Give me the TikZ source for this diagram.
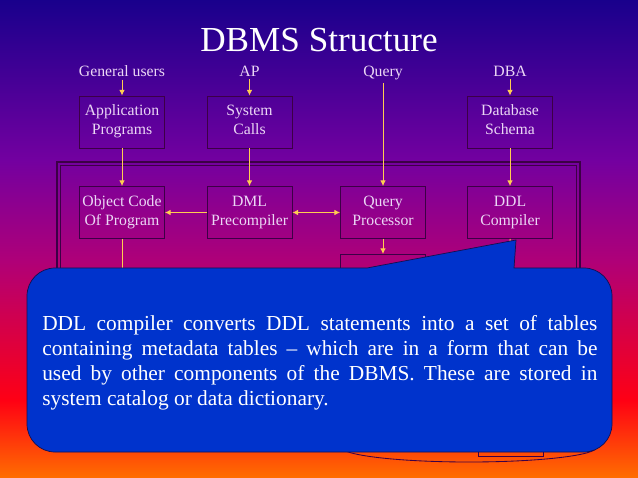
\documentclass[tikz,border=0pt]{standalone}
\usepackage{fontspec}
\setmainfont{Liberation Serif}
\usetikzlibrary{arrows.meta,positioning}
\definecolor{boxline}{RGB}{60,0,70}
\definecolor{labeltext}{RGB}{235,215,245}
\definecolor{flowarrow}{RGB}{255,205,80}
\definecolor{calloutblue}{RGB}{0,51,204}
\definecolor{calloutedge}{RGB}{20,15,80}
\definecolor{bgtop}{RGB}{25,0,140}
\definecolor{bgpurple}{RGB}{115,0,160}
\definecolor{bgmagenta}{RGB}{175,0,120}
\definecolor{bgred}{RGB}{255,0,20}
\definecolor{bgorange}{RGB}{255,110,0}

\begin{document}
\begin{tikzpicture}[
  x=0.025cm, y=-0.025cm,
  >={Latex[length=4pt,width=4pt]},
  every node/.style={font=\fontsize{11.2}{13.5}\selectfont, text=labeltext},
  box/.style={draw=boxline, line width=0.6pt, align=center, minimum width=2.125cm, minimum height=1.3cm, inner sep=0pt,
    execute at begin node={\rule{0pt}{12.2pt}}, execute at end node={\rule[-3pt]{0pt}{3pt}}},
  user/.style={inner sep=1.5pt, anchor=base},
  flow/.style={->, draw=flowarrow, line width=0.7pt}
]
% background
\useasboundingbox (0,0) rectangle (638,478);
\fill[top color=bgtop, bottom color=bgpurple] (0,0) rectangle (638,161);
\fill[top color=bgpurple, bottom color=bgmagenta] (0,160) rectangle (638,261);
\fill[top color=bgmagenta, bottom color=bgred] (0,260) rectangle (638,401);
\fill[top color=bgred, bottom color=bgorange] (0,400) rectangle (638,478);

\node[font=\fontsize{25}{30}\selectfont, text=white, anchor=base] (title) at (319,52) {DBMS Structure};

% users
\node[user] (users) at (122,77) {General users};
\node[user] (ap) at (249.5,77) {AP};
\node[user] (query) at (383,77) {Query};
\node[user] (dba) at (510,77) {DBA};

% frame
\draw[boxline, line width=0.9pt] (57,162) rectangle (580,430);
\draw[boxline, line width=0.5pt] (60.5,165.5) rectangle (576.5,426);

\node[box] (app) at (122,122) {Application\\Programs};
\node[box] (syscall) at (249.5,122) {System\\Calls};
\node[box] (schema) at (510,122) {Database\\Schema};
\node[box] (objcode) at (122,212.5) {Object Code\\Of Program};
\node[box] (dml) at (249.5,212.5) {DML\\Precompiler};
\node[box] (qproc) at (383,212.5) {Query\\Processor};
\node[box] (ddl) at (510,212.5) {DDL\\Compiler};

% lower part, mostly behind the note
\node[box, minimum height=2cm, anchor=north] (qlower) at (383,254) {};
\node[box, minimum width=1.625cm, minimum height=1.5cm, anchor=south] (dict) at (510.5,457) {};
\draw[boxline, line width=0.6pt] (469,447) ellipse [x radius=3.2cm, y radius=0.375cm];
\coordinate (objout) at (122,320);

\draw[flow] (users) -- (app);
\draw[flow] (ap) -- (syscall);
\draw[flow] (query) -- (qproc);
\draw[flow] (dba) -- (schema);
\draw[flow] (app) -- (objcode);
\draw[flow] (syscall) -- (dml);
\draw[flow] (schema) -- (ddl);
\draw[flow] (dml) -- (objcode);
\draw[flow, <->] (dml) -- (qproc);
\draw[flow] (qproc) -- (qlower);
\draw[flow] (ddl) -- (dict);
\draw[flow, -] (objcode) -- (objout);

% note
\path[draw=calloutedge, line width=0.5pt, fill=calloutblue]
  (27,360) [rounded corners=0.7cm] -- (27,268) -- (330,268) [sharp corners] -- (367,268)
  -- (516,240) -- (514,268) -- (540,268) [rounded corners=0.7cm] -- (612,268)
  -- (612,452) -- (27,452) -- cycle;
\node[anchor=north west, inner sep=0pt, text width=13.875cm, align=justify, text=white,
  font=\fontsize{15.2}{17.8}\selectfont] (note) at (42,315)
  {\hyphenpenalty=10000 \tolerance=10000 DDL compiler converts DDL statements into a set of tables\linebreak
   containing metadata tables – which are in a form that can be\linebreak
   used by other components of the DBMS. These are stored in\linebreak
   system catalog or data dictionary.};
\end{tikzpicture}
\end{document}
